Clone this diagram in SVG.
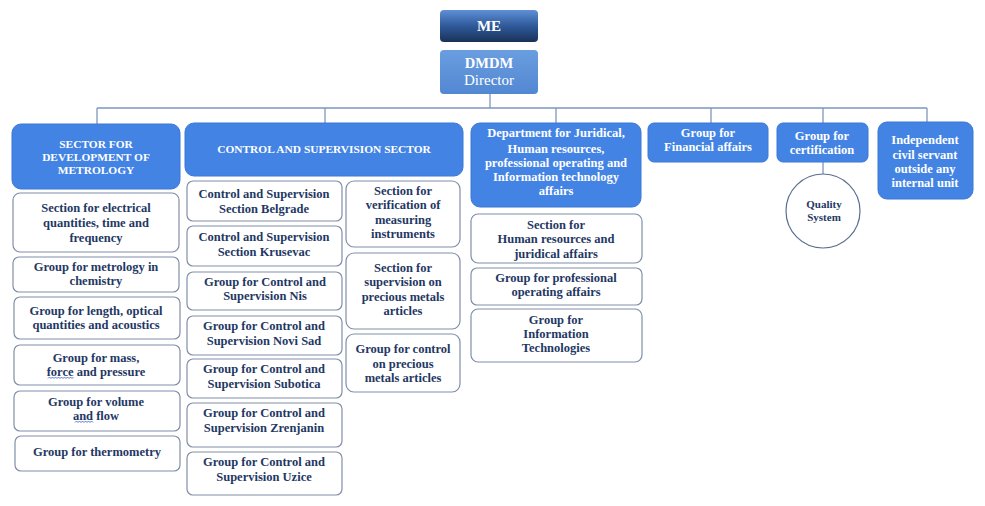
<svg xmlns="http://www.w3.org/2000/svg" width="985" height="506" viewBox="0 0 985 506">
<defs>
<linearGradient id="gME" x1="0" y1="0" x2="0" y2="1">
<stop offset="0" stop-color="#5f8fd6"/>
<stop offset="0.5" stop-color="#2f5a9a"/>
<stop offset="1" stop-color="#1a3158"/>
</linearGradient>
<linearGradient id="gDM" x1="0" y1="0" x2="0" y2="1">
<stop offset="0" stop-color="#6a9ee0"/>
<stop offset="1" stop-color="#5288d2"/>
</linearGradient>
<style>
.hd{fill:#4283e4;stroke:#3a78d6;stroke-width:1}
.bx{fill:#ffffff;stroke:#7f8fa8;stroke-width:1.2}
.ln{stroke:#7f97bd;stroke-width:1.3;fill:none}
text{font-family:'Liberation Serif','Times New Roman','DejaVu Serif',serif;font-weight:bold;font-size:12.5px;text-anchor:middle}
.w{fill:#ffffff}
.c{font-size:11.4px}
.d{fill:#1f3864}
.sq{stroke:#3355cc;stroke-width:0.8;fill:none}
</style>
</defs>
<rect width="985" height="506" fill="#ffffff"/>
<g id="connectors">
<path class="ln" d="M490 94V108M97 108H927M97 108V124M325 108V123M556 108V123M711 108V123M823 108V123M927 108V122M823 162V174"/>
</g>
<g id="me">
<rect x="440" y="10" width="98" height="32" rx="4" fill="url(#gME)"/>
<text class="w" x="489" y="31" style="font-size:15px">ME</text>
</g>
<g id="dmdm">
<rect x="440" y="50" width="98" height="44" rx="4" fill="url(#gDM)"/>
<text class="w" x="489" y="68" style="font-size:14.5px">DMDM</text>
<text class="w" x="489" y="85" style="font-size:15px;font-weight:normal">Director</text>
</g>
<g id="sector-dev">
<rect class="hd" x="12" y="124" width="168" height="65" rx="9"/>
<text class="w c" x="96" y="148">SECTOR FOR</text>
<text class="w c" x="96" y="161">DEVELOPMENT OF</text>
<text class="w c" x="96" y="174">METROLOGY</text>
</g>
<g id="sector-control">
<rect class="hd" x="185" y="123" width="278" height="53" rx="9"/>
<text class="w c" x="324" y="153">CONTROL AND SUPERVISION SECTOR</text>
</g>
<g id="department">
<rect class="hd" x="471" y="123" width="170" height="84" rx="9"/>
<text class="w" x="556" y="137">Department for Juridical,</text>
<text class="w" x="556" y="153">Human resources,</text>
<text class="w" x="556" y="167">professional operating and</text>
<text class="w" x="556" y="181">Information technology</text>
<text class="w" x="556" y="195">affairs</text>
</g>
<g id="financial">
<rect class="hd" x="648" y="123" width="120" height="39" rx="6"/>
<text class="w" x="708" y="137">Group for</text>
<text class="w" x="708" y="151">Financial affairs</text>
</g>
<g id="certification">
<rect class="hd" x="777" y="123" width="91" height="39" rx="6"/>
<text class="w" x="822" y="140">Group for</text>
<text class="w" x="822" y="154">certification</text>
</g>
<g id="independent">
<rect class="hd" x="878" y="122" width="95" height="77" rx="9"/>
<text class="w" x="925" y="144">Independent</text>
<text class="w" x="925" y="159">civil servant</text>
<text class="w" x="925" y="173">outside any</text>
<text class="w" x="925" y="187">internal unit</text>
</g>
<g id="quality">
<circle cx="823" cy="211" r="37" fill="#ffffff" stroke="#5a6f90" stroke-width="1.2"/>
<text class="d" x="824" y="208" style="font-size:11px">Quality</text>
<text class="d" x="824" y="221" style="font-size:11px">System</text>
</g>
<g id="electrical">
<rect class="bx" x="13" y="193" width="166" height="59" rx="7"/>
<text class="d" x="96" y="212">Section for electrical</text>
<text class="d" x="96" y="227">quantities, time and</text>
<text class="d" x="96" y="242">frequency</text>
</g>
<g id="chemistry">
<rect class="bx" x="13" y="257" width="166" height="35" rx="6"/>
<text class="d" x="96" y="271">Group for metrology in</text>
<text class="d" x="96" y="285">chemistry</text>
</g>
<g id="length">
<rect class="bx" x="14" y="297" width="166" height="42" rx="6"/>
<text class="d" x="96" y="315">Group for length, optical</text>
<text class="d" x="96" y="329">quantities and acoustics</text>
</g>
<g id="mass">
<rect class="bx" x="14" y="345" width="166" height="40" rx="6"/>
<text class="d" x="96" y="362">Group for mass,</text>
<text class="d" x="96" y="376">force and pressure</text>
<path class="sq" d="M48 378.5l1.5-1.5 1.5 1.5 1.5-1.5 1.5 1.5 1.5-1.5 1.5 1.5 1.5-1.5 1.5 1.5 1.5-1.5 1.5 1.5 1.5-1.5 1.5 1.5 1.5-1.5 1.5 1.5 1.5-1.5 1.5 1.5 1.5-1.5"/>
</g>
<g id="volume">
<rect class="bx" x="14" y="391" width="166" height="40" rx="6"/>
<text class="d" x="96" y="406">Group for volume</text>
<text class="d" x="96" y="420">and flow</text>
<path class="sq" d="M75 422.5l1.5-1.5 1.5 1.5 1.5-1.5 1.5 1.5 1.5-1.5 1.5 1.5 1.5-1.5 1.5 1.5 1.5-1.5 1.5 1.5 1.5-1.5 1.5 1.5"/>
</g>
<g id="thermometry">
<rect class="bx" x="15" y="436" width="165" height="35" rx="6"/>
<text class="d" x="97" y="456">Group for thermometry</text>
</g>
<g id="belgrade">
<rect class="bx" x="187" y="181" width="155" height="40" rx="6"/>
<text class="d" x="264" y="198">Control and Supervision</text>
<text class="d" x="264" y="213">Section Belgrade</text>
</g>
<g id="krusevac">
<rect class="bx" x="187" y="226" width="155" height="40" rx="6"/>
<text class="d" x="264" y="241">Control and Supervision</text>
<text class="d" x="264" y="256">Section Krusevac</text>
</g>
<g id="nis">
<rect class="bx" x="187" y="272" width="155" height="38" rx="6"/>
<text class="d" x="265" y="286">Group for Control and</text>
<text class="d" x="265" y="300">Supervision Nis</text>
</g>
<g id="novisad">
<rect class="bx" x="187" y="316" width="155" height="39" rx="6"/>
<text class="d" x="264" y="330">Group for Control and</text>
<text class="d" x="264" y="345">Supervision Novi Sad</text>
</g>
<g id="subotica">
<rect class="bx" x="187" y="359" width="155" height="39" rx="6"/>
<text class="d" x="264" y="373">Group for Control and</text>
<text class="d" x="264" y="388">Supervision Subotica</text>
</g>
<g id="zrenjanin">
<rect class="bx" x="187" y="403" width="155" height="44" rx="6"/>
<text class="d" x="264" y="417">Group for Control and</text>
<text class="d" x="264" y="432">Supervision Zrenjanin</text>
</g>
<g id="uzice">
<rect class="bx" x="187" y="452" width="155" height="43" rx="6"/>
<text class="d" x="264" y="466">Group for Control and</text>
<text class="d" x="264" y="481">Supervision Uzice</text>
</g>
<g id="verification">
<rect class="bx" x="346" y="181" width="114" height="66" rx="8"/>
<text class="d" x="403" y="195">Section for</text>
<text class="d" x="403" y="209">verification of</text>
<text class="d" x="403" y="224">measuring</text>
<text class="d" x="403" y="238">instruments</text>
</g>
<g id="precious-supervision">
<rect class="bx" x="346" y="253" width="114" height="76" rx="8"/>
<text class="d" x="403" y="272">Section for</text>
<text class="d" x="403" y="286">supervision on</text>
<text class="d" x="403" y="301">precious metals</text>
<text class="d" x="403" y="315">articles</text>
</g>
<g id="precious-control">
<rect class="bx" x="346" y="334" width="114" height="58" rx="8"/>
<text class="d" x="403" y="353">Group for control</text>
<text class="d" x="403" y="368">on precious</text>
<text class="d" x="403" y="382">metals articles</text>
</g>
<g id="hr">
<rect class="bx" x="471" y="214" width="171" height="49" rx="7"/>
<text class="d" x="556" y="229">Section for</text>
<text class="d" x="556" y="243">Human resources and</text>
<text class="d" x="556" y="258">juridical affairs</text>
</g>
<g id="professional">
<rect class="bx" x="471" y="268" width="171" height="37" rx="6"/>
<text class="d" x="556" y="282">Group for professional</text>
<text class="d" x="556" y="296">operating affairs</text>
</g>
<g id="it">
<rect class="bx" x="471" y="309" width="171" height="53" rx="7"/>
<text class="d" x="556" y="324">Group for</text>
<text class="d" x="556" y="338">Information</text>
<text class="d" x="556" y="352">Technologies</text>
</g>
</svg>
